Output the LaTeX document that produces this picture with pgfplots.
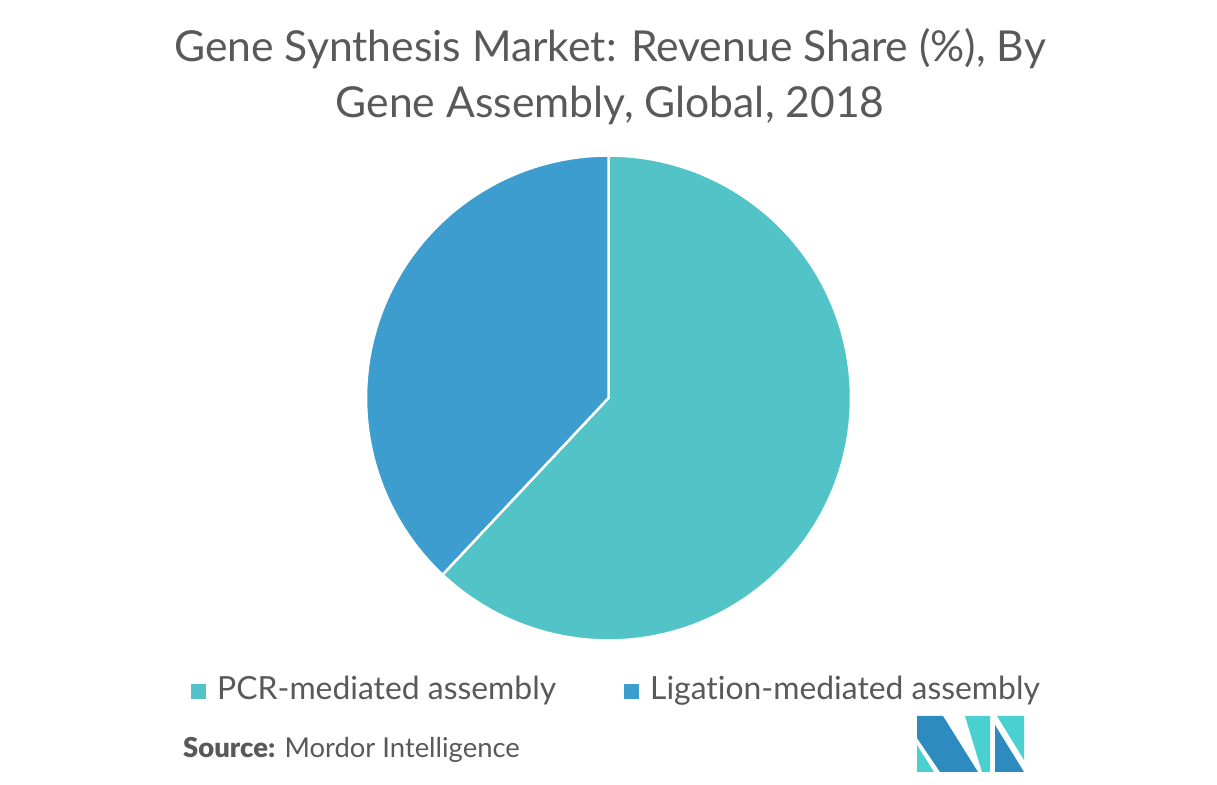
\documentclass[border=0pt]{standalone}
\usepackage{pgfplots}
\usepackage{pgfplotstable}
\pgfplotsset{compat=1.18}
\usepackage{fontspec}
\setmainfont[Ligatures={NoCommon,NoRequired}]{Lato}
\newfontfamily\blackfont[Ligatures={NoCommon,NoRequired}]{Lato Black}
\definecolor{pcr}{RGB}{82,196,200}
\definecolor{lig}{RGB}{61,157,207}
\definecolor{txt}{RGB}{89,89,89}
\definecolor{logoblue}{RGB}{46,139,192}
\definecolor{logoteal}{RGB}{74,208,208}

\pgfplotstableread{
label value
PCR 62
Ligation 38
}\sharedata

\pgfplotstablegetelem{0}{value}\of\sharedata
\pgfmathsetmacro{\angA}{90-3.6*\pgfplotsretval}
\pgfplotstablegetelem{1}{value}\of\sharedata
\pgfmathsetmacro{\angB}{\angA-3.6*\pgfplotsretval}

\begin{document}
\begin{tikzpicture}[x=1bp,y=1bp]
\path[use as bounding box] (0,0) rectangle (1217,785);
% title
\node[anchor=base, text=txt, font=\fontsize{42.8}{52}\selectfont, inner sep=0] at (610,723) {Gene Synthesis Market: Revenue Share (\%), By};
\node[anchor=base, text=txt, font=\fontsize{42.8}{52}\selectfont, inner sep=0] at (610,667) {Gene Assembly, Global, 2018};

\begin{axis}[at={(608.5bp,387bp)}, anchor=center, width=485bp, height=485bp,
  scale only axis, xmin=-1, xmax=1, ymin=-1, ymax=1, hide axis, clip=false]
\addplot[fill=pcr, draw=white, line width=2.5bp, line join=round, domain=90:\angA, samples=181, variable=\t]
  ({cos(\t)},{sin(\t)}) -- (axis cs:0,0) -- cycle;
\addplot[fill=lig, draw=white, line width=2.5bp, line join=round, domain=\angA:\angB, samples=121, variable=\t]
  ({cos(\t)},{sin(\t)}) -- (axis cs:0,0) -- cycle;
\end{axis}

% legend
\fill[pcr] (191,86) rectangle (206,101);
\node[anchor=base west, text=txt, font=\fontsize{32}{36}\selectfont, inner sep=0] at (217,85) {PCR-mediated assembly};
\fill[lig] (624,86) rectangle (639,101);
\node[anchor=base west, text=txt, font=\fontsize{32}{36}\selectfont, inner sep=0] at (650,85) {Ligation-mediated assembly};

% source
\node[anchor=base west, text=txt, font=\fontsize{27.5}{30}\selectfont, inner sep=0] at (183,27) {{\blackfont Source:} Mordor Intelligence};

% logo
\fill[logoblue] (917,69) -- (943,69) -- (978,13) -- (940,13) -- (917,47) -- cycle;
\fill[logoteal] (917,40) -- (917,13) -- (934,13) -- cycle;
\fill[logoteal] (965,69) -- (990,69) -- (990,13) -- (982,13) -- cycle;
\fill[logoteal] (997,69) -- (1024,69) -- (1024,25) -- cycle;
\fill[logoblue] (995,60) -- (995,13) -- (1024,13) -- cycle;
\end{tikzpicture}
\end{document}
